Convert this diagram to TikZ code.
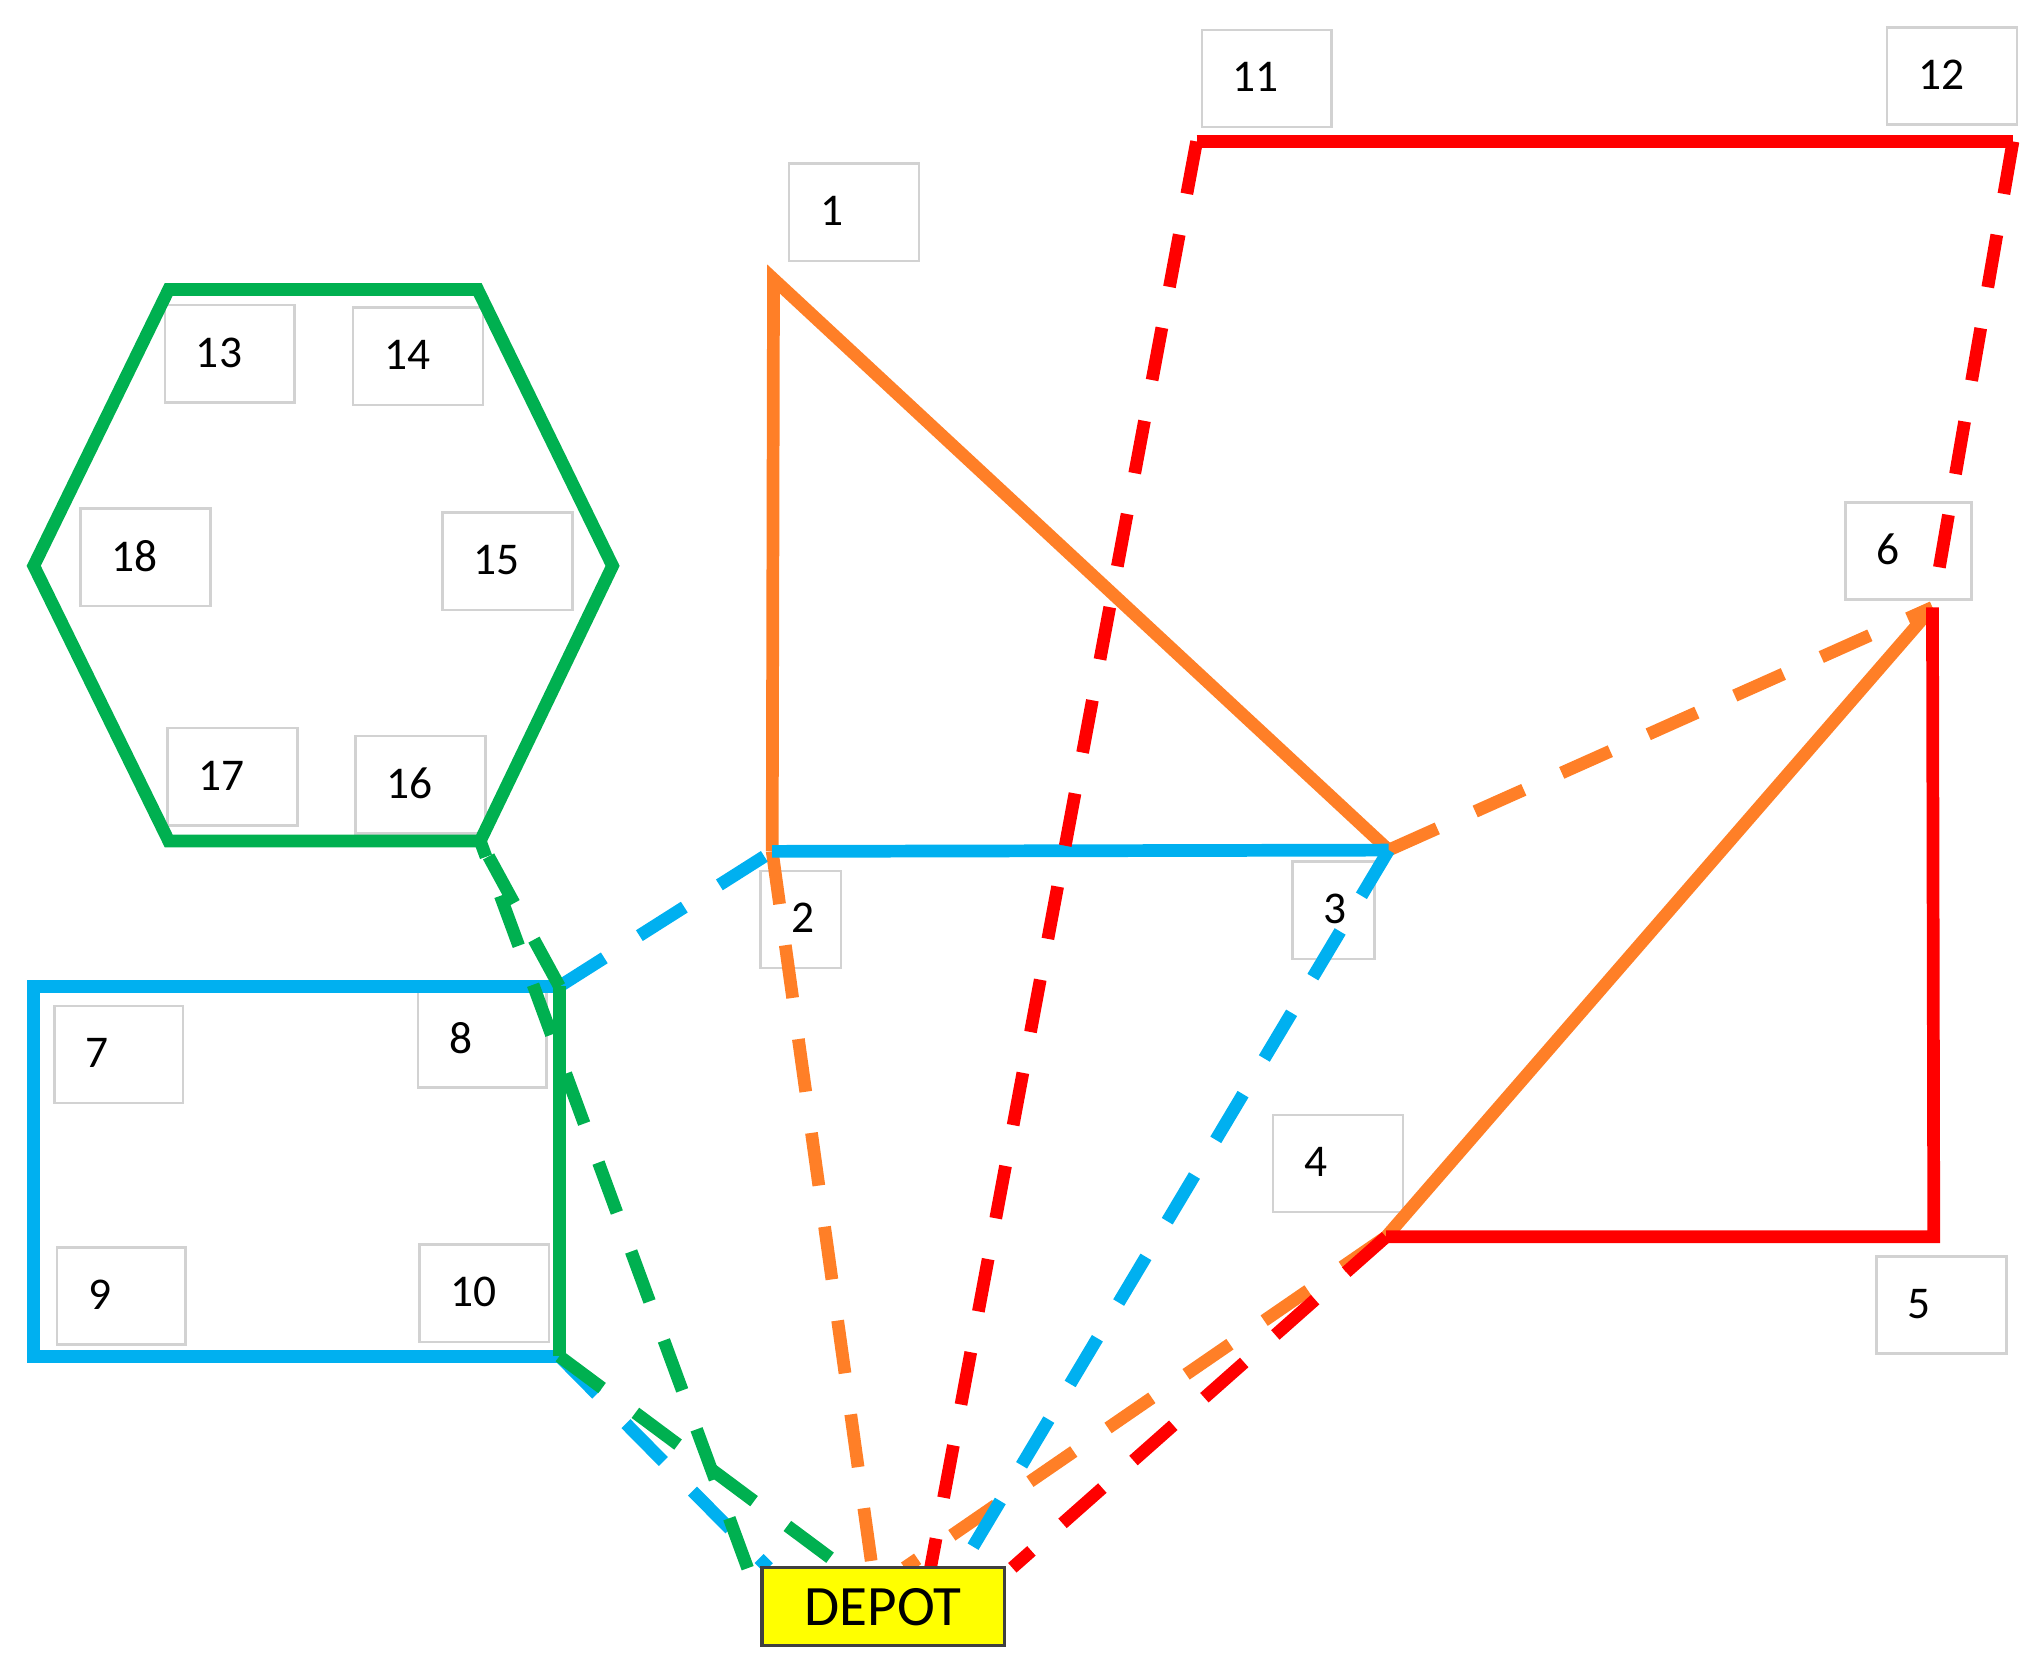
\documentclass[tikz,border=0pt]{standalone}
\usepackage{fontspec}
\setmainfont{Carlito}
\usetikzlibrary{calc}
\definecolor{cgreen}{HTML}{00B050}
\definecolor{cblue}{HTML}{00B0F0}
\definecolor{corange}{HTML}{FF7F27}
\definecolor{cred}{HTML}{FF0000}
\definecolor{boxgray}{HTML}{D2D2D2}
\definecolor{depotyellow}{HTML}{FFFF00}
\definecolor{depotborder}{HTML}{404040}
\newcommand\lblfont{\fontsize{17.5}{21}\selectfont}
\newcommand\depotfont{\fontsize{22}{26}\selectfont}
\begin{document}
\begin{tikzpicture}[x=0.5pt,y=-0.5pt,
  route/.style={line width=4.9pt,line join=miter,line cap=butt},
  dashroute/.style={route,dash pattern=on 20.5pt off 16pt},
  lbl/.style={draw=boxgray,line width=1pt,fill=white,inner xsep=0pt,inner ysep=0pt,
    align=left,text width=#1,minimum height=37.5pt,anchor=north west,font=\lblfont},
  lbl/.default=50pt,
  depotbox/.style={draw=depotborder,line width=1.3pt,fill=depotyellow,inner sep=0pt,
    minimum width=93.5pt,minimum height=30pt,font=\depotfont}
]
\useasboundingbox (0,0) rectangle (1568,1285);

% label boxes
\node[lbl] (n1) at (607,125) {\hspace*{12pt}\raisebox{1pt}{1}};
\node[lbl] (n11) at (925,22) {\hspace*{12pt}\raisebox{1pt}{11}};
\node[lbl] (n12) at (1453,20) {\hspace*{12pt}\raisebox{1pt}{12}};
\node[lbl] (n13) at (126,234) {\hspace*{12pt}\raisebox{1pt}{13}};
\node[lbl] (n14) at (271,236) {\hspace*{12pt}\raisebox{1pt}{14}};
\node[lbl] (n18) at (61,391) {\hspace*{12pt}\raisebox{1pt}{18}};
\node[lbl] (n15) at (340,394) {\hspace*{12pt}\raisebox{1pt}{15}};
\node[lbl] (n17) at (128,560) {\hspace*{12pt}\raisebox{1pt}{17}};
\node[lbl] (n16) at (273,566) {\hspace*{12pt}\raisebox{1pt}{16}};
\node[lbl=48.5pt] (n6) at (1421,386) {\hspace*{12pt}\raisebox{1pt}{6}};
\node[lbl=31pt] (n2) at (585,670) {\hspace*{12pt}\raisebox{1pt}{2}};
\node[lbl=31.5pt] (n3) at (995,663) {\hspace*{12pt}\raisebox{1pt}{3}};
\node[lbl=49.5pt] (n7) at (41,774) {\hspace*{12pt}\raisebox{1pt}{7}};
\node[lbl=49.5pt] (n8) at (321,762) {\hspace*{12pt}\raisebox{1pt}{8}};
\node[lbl=49.5pt] (n9) at (43,960) {\hspace*{12pt}\raisebox{1pt}{9}};
\node[lbl] (n10) at (322,958) {\hspace*{12pt}\raisebox{1pt}{10}};
\node[lbl] (n4) at (980,858) {\hspace*{12pt}\raisebox{1pt}{4}};
\node[lbl] (n5) at (1445,967) {\hspace*{12pt}\raisebox{1pt}{5}};

% route vertices
\coordinate (p1) at (596,215);
\coordinate (p2) at (595,656);
\coordinate (p3) at (1070,655);
\coordinate (p4) at (1068,953);
\coordinate (p5) at (1490,953);
\coordinate (p6) at (1489,468);
\coordinate (p7) at (26,760);
\coordinate (p8) at (431,760);
\coordinate (p9) at (26,1045);
\coordinate (p10) at (431,1045);
\coordinate (p11) at (922,109);
\coordinate (p12) at (1551,109);
\coordinate (h13) at (130,223);
\coordinate (h14) at (368,223);
\coordinate (h15) at (472,436);
\coordinate (h16) at (370,648);
\coordinate (h17) at (130,648);
\coordinate (h18) at (26,436);
% depot ends
\coordinate (dB10) at (592,1208);
\coordinate (dG10) at (650,1208);
\coordinate (dO2) at (672,1208);
\coordinate (dO4) at (697,1208);
\coordinate (dR11) at (717,1208);
\coordinate (dB3) at (740,1208);
\coordinate (dR4) at (780,1208);
\coordinate (dG16) at (587,1238);

% orange route
\draw[route,corange] (p2) -- (p1) -- (p3);
\draw[dashroute,corange] (p3) -- (p6);
\draw[route,corange] (p6) -- (p4);
\draw[dashroute,corange] (p4) -- (dO4);
\draw[dashroute,corange] (p2) -- (dO2);

% blue route
\draw[route,cblue] (p10) -- (p9) -- (p7) -- (p8);
\draw[dashroute,cblue] (p8) -- (p2);
\draw[route,cblue] (p2) -- (p3);
\draw[dashroute,cblue] (p3) -- (dB3);
\draw[dashroute,cblue] (p10) -- (dB10);

% green route
\draw[route,cgreen] (h13) -- (h14) -- (h15) -- (h16) -- (h17) -- (h18) -- cycle;
\draw[route,cgreen] (p10) -- (p8);
\draw[dashroute,cgreen] (p8) -- (h16);
\draw[dashroute,cgreen,dash phase=14pt] (h16) -- (dG16);
\draw[dashroute,cgreen] (p10) -- (dG10);

% red route
\draw[dashroute,cred] (p11) -- (dR11);
\draw[route,cred] (p11) -- (p12);
\draw[dashroute,cred] (p12) -- (p6);
\draw[route,cred] (p6) -- (p5) -- (p4);
\draw[dashroute,cred] (p4) -- (dR4);

% depot
\node[depotbox] (depot) at (680.5,1238) {DEPOT};
\end{tikzpicture}
\end{document}
